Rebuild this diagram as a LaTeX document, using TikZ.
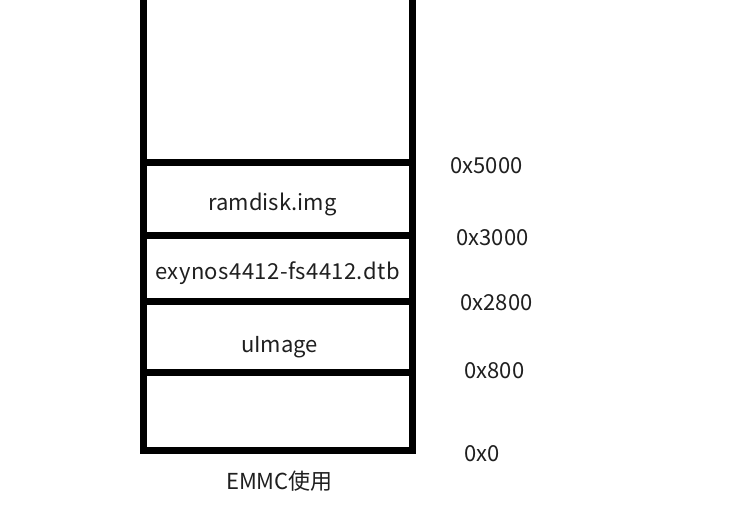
\documentclass[tikz,border=0pt]{standalone}
\usepackage{fontspec}
\setmainfont{Noto Sans CJK SC}
\usepackage{tikz}
\usetikzlibrary{calc}

\begin{document}
\begin{tikzpicture}[x=1pt, y=-1pt, line width=7pt,
    lbl/.style={text=black!88, inner sep=0pt, anchor=base, font=\fontsize{22pt}{26pt}\selectfont},
    wide/.style={font=\fontsize{22pt}{26pt}\selectfont\addfontfeatures{LetterSpace=2}}]
  % Frame
  \newcommand\boxL{143}        % = left edge
  \newcommand\boxR{412}        % = right edge
  \newcommand\boxB{450.5}      % = bottom edge
  \newcommand\boxM{277.5}      % = middle

  \useasboundingbox (0,0) rectangle (729,504);

  \draw (\boxL,0) -- (\boxL,\boxB) -- (\boxR,\boxB) -- (\boxR,0);
  \foreach \y in {162.5,235.5,301.5,372.5} {
    \draw (\boxL,\y) -- (\boxR,\y);
  }

  % Partition names
  \draw (\boxM-5,210) node[lbl] (ramdisk) {ramdisk.img};
  \draw (\boxM,279) node[lbl, wide] (dtb) {exynos4412-fs4412.dtb};
  \draw (\boxM+2,352) node[lbl] (uimage) {uImage};
  \draw (\boxM+2,489) node[lbl] (emmc) {EMMC使用};

  % Offsets
  \foreach \x/\y/\lab [count=\i] in {447/173/0x5000, 453/245/0x3000, 457/310/0x2800, 461/378/0x800, 461/461/0x0} {
    \draw (\x,\y) node[lbl, anchor=base west] (addr\i) {\lab};
  }
\end{tikzpicture}
\end{document}
